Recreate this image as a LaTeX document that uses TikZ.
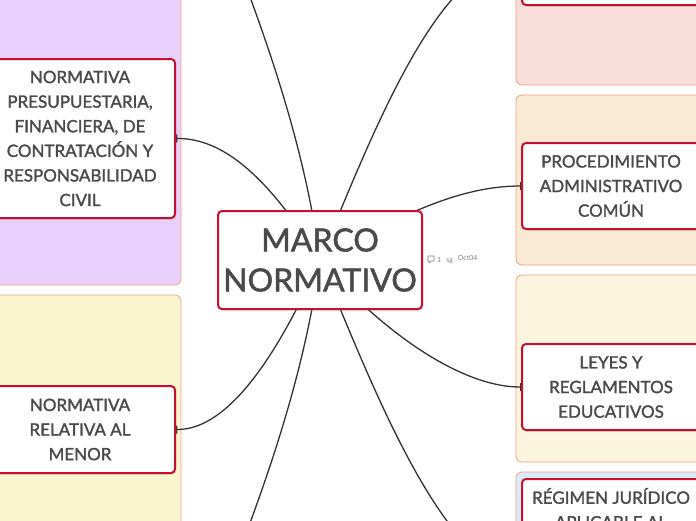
\documentclass[tikz,border=0pt]{standalone}
\usepackage{fontspec}
\setmainfont{Lato}
\newfontfamily\mapfont{Lato}[FakeBold=1.6]
\usetikzlibrary{arrows.meta,shadows}
\definecolor{crimson}{HTML}{C8102E}
\definecolor{inkgray}{HTML}{4A4A4A}
\definecolor{linkgray}{HTML}{333333}
\definecolor{panelline}{HTML}{F2A080}
\definecolor{lilac}{HTML}{E9D0FB}
\definecolor{straw}{HTML}{F9F5CE}
\definecolor{blush}{HTML}{F9DEDA}
\definecolor{peach}{HTML}{FAE9D3}
\definecolor{cream}{HTML}{FDF6DF}
\definecolor{skyblue}{HTML}{D9EBF9}
\pgfdeclarelayer{panels}
\pgfdeclarelayer{links}
\pgfsetlayers{panels,links,main}

\begin{document}
\begin{tikzpicture}[x=1pt, y=-1pt,
    panel/.style={draw=panelline, line width=0.8pt, rounded corners=6pt},
    topic/.style={draw=crimson, line width=2pt, rounded corners=4pt, fill=white,
        drop shadow={opacity=0.3, shadow xshift=1pt, shadow yshift=-1.5pt},
        text=inkgray, align=center, inner sep=0pt, minimum width=178pt,
        font=\mapfont\fontsize{17}{24.6}\selectfont},
    root/.style={topic, minimum width=204pt, minimum height=98pt,
        font=\mapfont\fontsize{32}{40}\selectfont},
    link/.style={draw=linkgray, line width=1.3pt, -{Bar[width=8pt, line width=1.3pt]}},
    comment/.style={text=gray, font=\fontsize{7}{8}\selectfont, inner sep=0pt}]
  \path[use as bounding box] (0,0) rectangle (696,520);

  \begin{pgfonlayer}{panels}
    \draw[panel, fill=lilac] (-20,-20) rectangle (181,285);
    \draw[panel, fill=straw] (-20,295) rectangle (181,540);
    \draw[panel, fill=blush] (516,-20) rectangle (716,85);
    \draw[panel, fill=peach] (516,95) rectangle (716,265);
    \draw[panel, fill=cream] (516,275) rectangle (716,462);
    \draw[panel, fill=skyblue] (516,472) rectangle (716,700);
  \end{pgfonlayer}

  \node[root] (marco) at (320,260) {MARCO\\NORMATIVO};
  \node[topic, minimum width=190pt, minimum height=159pt] (presup) at (80,138.5)
    {NORMATIVA\\PRESUPUESTARIA,\\FINANCIERA, DE\\CONTRATACIÓN Y\\RESPONSABILIDAD\\CIVIL};
  \node[topic, minimum width=190pt, minimum height=87pt] (menor) at (80,429.5)
    {NORMATIVA\\RELATIVA AL\\MENOR};
  \node[topic, minimum height=86pt] (proced) at (611,186)
    {PROCEDIMIENTO\\ADMINISTRATIVO\\COMÚN};
  \node[topic, minimum height=86pt] (leyes) at (611,387)
    {LEYES Y\\REGLAMENTOS\\EDUCATIVOS};
  \node[topic, minimum height=86pt] (arriba) at (611,-38) {};
  \node[topic, anchor=north, inner ysep=9pt, text depth=140pt] (regimen) at (611,478)
    {RÉGIMEN JURÍDICO\\APLICABLE AL};
  \coordinate (izqarriba) at (240,-30);
  \coordinate (izqabajo) at (240,550);

  \node[comment, anchor=west] (nota) at (437,260) {1\hspace{5pt}sg\hspace{5pt}\raisebox{2pt}{Oct04}};
  \draw[gray, line width=0.6pt, line join=round] (428,256) -- (434,256) -- (434,261) -- (431,261) -- (429,263) -- (429,261) -- (428,261) -- cycle;

  \begin{pgfonlayer}{links}
    \draw[link] (marco.center) .. controls (270,180) and (225,138) .. (presup.east);
    \draw[link] (marco.center) .. controls (305,150) and (270,50) .. (izqarriba);
    \draw[link] (marco.center) .. controls (370,140) and (440,-45) .. (arriba.west);
    \draw[link] (marco.center) .. controls (400,215) and (460,186) .. (proced.west);
    \draw[link] (marco.center) .. controls (280,350) and (230,430) .. (menor.east);
    \draw[link] (marco.center) .. controls (305,370) and (270,470) .. (izqabajo);
    \draw[link] (marco.center) .. controls (380,330) and (460,387) .. (leyes.west);
    \draw[link] (marco.center) .. controls (370,380) and (440,565) .. (regimen.west);
  \end{pgfonlayer}
\end{tikzpicture}
\end{document}
